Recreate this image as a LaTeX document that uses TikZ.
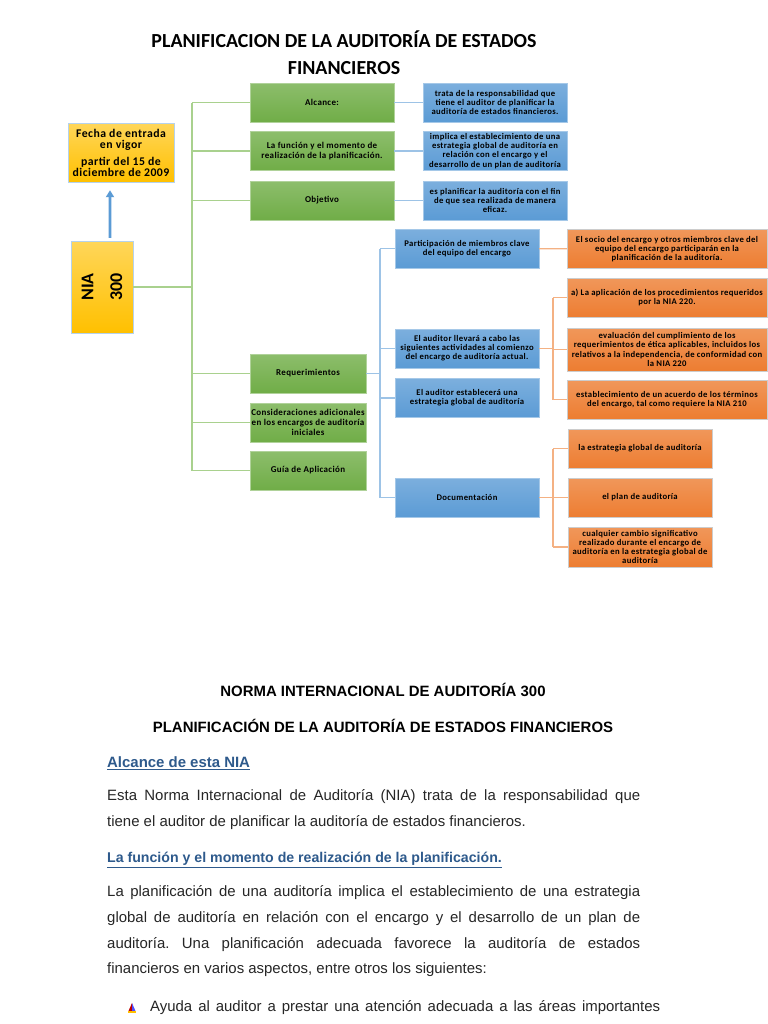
\documentclass[tikz,border=0pt]{standalone}
\usepackage{fontspec}
\setmainfont{Carlito}
\newfontfamily\boxfont[LetterSpace=4]{Carlito}
\newfontfamily\docfont{Liberation Sans}
\usetikzlibrary{arrows.meta}

\definecolor{nivgreen}{HTML}{70AD47}
\definecolor{nivblue}{HTML}{5B9BD5}
\definecolor{nivorange}{HTML}{ED7D31}
\definecolor{nivyellow}{HTML}{FFC000}
\definecolor{lngreen}{HTML}{A9D18E}
\definecolor{lnblue}{HTML}{9DC3E6}
\definecolor{lnorange}{HTML}{F4B183}
\definecolor{headblue}{HTML}{2E5A8C}
\definecolor{doctxt}{HTML}{262626}

\tikzset{
  nbox/.style={inner sep=0, align=center, font=\boxfont\bfseries\fontsize{8.7}{9.2}\selectfont},
  greenbox/.style={nbox, top color=nivgreen!80!white, bottom color=nivgreen,
    draw=nivgreen!55!white, minimum height=39bp, font=\boxfont\bfseries\fontsize{9}{10}\selectfont},
  bluebox/.style={nbox, top color=nivblue!80!white, bottom color=nivblue,
    draw=nivblue!55!white, minimum width=144bp, minimum height=39bp},
  orangebox/.style={nbox, top color=nivorange!80!white, bottom color=nivorange,
    draw=gray!40, minimum height=39bp},
  yellowbox/.style={top color=nivyellow!65!white, bottom color=nivyellow,
    draw=nivblue!45!white},
  gline/.style={draw=lngreen, line width=1.2bp},
  bline/.style={draw=lnblue, line width=1.2bp},
  oline/.style={draw=lnorange, line width=1.2bp},
  doctext/.style={inner sep=0, anchor=west, text=doctxt,
    font=\docfont\frenchspacing\fontsize{15}{17}\selectfont},
  dochead/.style={inner sep=0, anchor=west, text=headblue,
    font=\docfont\bfseries\fontsize{15}{17}\selectfont},
  doctitle/.style={inner sep=0, text=black,
    font=\docfont\bfseries\fontsize{15}{17}\selectfont}
}

\newcommand\jline[3]{\node[doctext] (#1) at (107,#2) {\hbox to 533bp{#3}};}

\begin{document}
\begin{tikzpicture}[x=1bp,y=-1bp]
  \fill[white] (0,0) rectangle (768,1024);
  \useasboundingbox (0,0) rectangle (768,1024);

  % titulo
  \node[align=center, inner sep=0, font=\bfseries\fontsize{20}{27}\selectfont] (titulo) at (344,53)
    {PLANIFICACION DE LA AUDITORÍA DE ESTADOS\\FINANCIEROS};

  % NIA y fecha
  \node[yellowbox, minimum width=106bp, minimum height=59bp, align=center, inner sep=0,
    font=\boxfont\bfseries\fontsize{11.8}{11}\selectfont] (fecha) at (121,152.5)
    {Fecha de entrada\\en vigor\\[6bp]partir del 15 de\\diciembre de 2009};
  \node[yellowbox, minimum width=62bp, minimum height=92bp] (nia) at (102,287) {};
  \node[rotate=90, align=left, inner sep=0, font=\bfseries\fontsize{18}{29}\selectfont] (niatxt)
    at (nia.center) {NIA\\300};
  \draw[draw=nivblue, line width=2.6bp, -{Triangle[length=7bp,width=8bp]}]
    ([xshift=8bp,yshift=3bp]nia.north) -- ([xshift=-11bp,yshift=-8bp]fecha.south);

  % ramas verdes
  \node[greenbox, minimum width=144bp] (alc) at (322,102.5) {Alcance:};
  \node[greenbox, minimum width=144bp] (fun) at (322,151)
    {La función y el momento de\\realización de la planificación.};
  \node[greenbox, minimum width=144bp] (obj) at (322,200.5) {Objetivo};
  \node[greenbox, minimum width=116bp] (req) at (308,373.5) {Requerimientos};
  \node[greenbox, minimum width=116bp] (con) at (308,422.5)
    {Consideraciones adicionales\\en los encargos de auditoría\\iniciales};
  \node[greenbox, minimum width=116bp] (gui) at (308,470.5) {Guía de Aplicación};

  \coordinate (gtop) at (192,102.5);
  \coordinate (gbot) at (192,470.5);
  \draw[gline] (gtop) -- (gbot);
  \draw[gline] (nia.east) -- (nia.east -| gtop);
  \foreach \g in {alc,fun,obj,req,con,gui}
    \draw[gline] (\g.west) -- (\g.west -| gtop);

  % definiciones
  \node[bluebox] (alcb) at (495,102.5)
    {trata de la responsabilidad que\\tiene el auditor de planificar la\\auditoría de estados financieros.};
  \node[bluebox] (funb) at (495,151)
    {implica el establecimiento de una\\estrategia global de auditoría en\\relación con el encargo y el\\desarrollo de un plan de auditoría};
  \node[bluebox] (objb) at (495,200.5)
    {es planificar la auditoría con el fin\\de que sea realizada de manera\\eficaz.};
  \foreach \a/\b in {alc/alcb,fun/funb,obj/objb}
    \draw[bline] (\a) -- (\b);

  % requerimientos
  \node[bluebox] (par) at (467,248.5) {Participación de miembros clave\\del equipo del encargo};
  \node[bluebox] (lle) at (467,348.5)
    {El auditor llevará a cabo las\\siguientes actividades al comienzo\\del encargo de auditoría actual.};
  \node[bluebox] (est) at (467,398) {El auditor establecerá una\\estrategia global de auditoría};
  \node[bluebox] (doc) at (467,497.5) {Documentación};

  \coordinate (btop) at (380,248.5);
  \coordinate (bbot) at (380,497.5);
  \draw[bline] (btop) -- (bbot);
  \draw[bline] (req.east) -- (req.east -| btop);
  \foreach \b in {par,lle,est,doc}
    \draw[bline] (\b.west) -- (\b.west -| btop);

  % actividades
  \node[orangebox, minimum width=200bp] (paro) at (667,249)
    {El socio del encargo y otros miembros clave del\\equipo del encargo participarán en la\\planificación de la auditoría.};
  \draw[oline] (par) -- (paro);

  \node[orangebox, minimum width=200bp] (ora) at (667,297.5)
    {a) La aplicación de los procedimientos requeridos\\por la NIA 220.};
  \node[orangebox, minimum width=200bp, minimum height=43bp] (orb) at (667,349.5)
    {evaluación del cumplimiento de los\\requerimientos de ética aplicables, incluidos los\\relativos a la independencia, de conformidad con\\la NIA 220};
  \node[orangebox, minimum width=200bp] (orc) at (667,399.5)
    {establecimiento de un acuerdo de los términos\\del encargo, tal como requiere la NIA 210};

  \coordinate (otop) at (553,297.5);
  \coordinate (obot) at (553,399.5);
  \draw[oline] (otop) -- (obot);
  \draw[oline] (lle.east) -- (lle.east -| otop);
  \foreach \o in {ora,orb,orc}
    \draw[oline] (\o.west) -- (\o.west -| otop);

  % documentacion
  \node[orangebox, minimum width=144bp] (oda) at (640,448.5) {la estrategia global de auditoría};
  \node[orangebox, minimum width=144bp] (odb) at (640,497.5) {el plan de auditoría};
  \node[orangebox, minimum width=144bp, minimum height=40bp] (odc) at (640,547)
    {cualquier cambio significativo\\realizado durante el encargo de\\auditoría en la estrategia global de\\auditoría};

  \coordinate (dtop) at (553,448.5);
  \coordinate (dbot) at (553,547);
  \draw[oline] (dtop) -- (dbot);
  \draw[oline] (doc.east) -- (doc.east -| dtop);
  \foreach \o in {oda,odb,odc}
    \draw[oline] (\o.west) -- (\o.west -| dtop);

  % texto de la norma
  \node[doctitle] (norma) at (383,690) {NORMA INTERNACIONAL DE AUDITORÍA 300};
  \node[doctitle] (plan) at (383,726) {PLANIFICACIÓN DE LA AUDITORÍA DE ESTADOS FINANCIEROS};
  \node[dochead] (h1) at (107,763) {\underline{Alcance de esta NIA}};
  \jline{p1a}{797}{Esta Norma Internacional de Auditoría (NIA) trata de la responsabilidad que}
  \node[doctext] (p1b) at (107,823) {tiene el auditor de planificar la auditoría de estados financieros.};
  \node[dochead, font=\docfont\bfseries\fontsize{14.2}{17}\selectfont] (h2) at (107,860)
    {\underline{La función y el momento de realización de la planificación.}};
  \jline{p2a}{893}{La planificación de una auditoría implica el establecimiento de una estrategia}
  \jline{p2b}{919}{global de auditoría en relación con el encargo y el desarrollo de un plan de}
  \jline{p2c}{945}{auditoría. Una planificación adecuada favorece la auditoría de estados}
  \node[doctext] (p2d) at (107,970) {financieros en varios aspectos, entre otros los siguientes:};

  % viñeta
  \fill[red!75!black] (128.5,1011) -- (132,1003) -- (132,1011) -- cycle;
  \fill[blue!70] (132,1003) -- (135.5,1011) -- (132,1011) -- cycle;
  \fill[nivyellow] (128,1011) rectangle (136,1012.6);
  \node[doctext] (b1) at (150,1008) {\hbox to 510bp{Ayuda al auditor a prestar una atención adecuada a las áreas importantes}};
\end{tikzpicture}
\end{document}
